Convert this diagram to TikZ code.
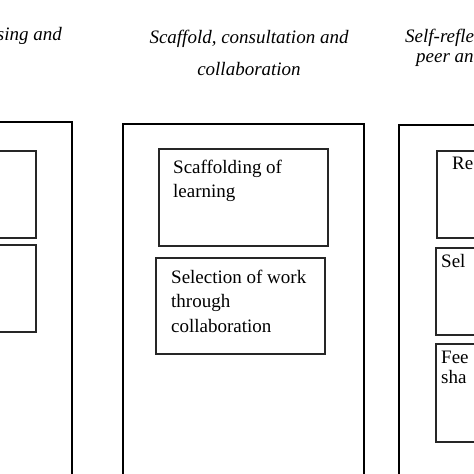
\documentclass[tikz,border=0pt]{standalone}
\usepackage{fontspec}
\setmainfont{Liberation Serif}
\usetikzlibrary{calc}
\tikzset{
  frame/.style={rectangle, draw=black, line width=1.5pt, inner sep=0pt, outer sep=0pt, anchor=north west},
  item/.style={rectangle, draw=black!85, line width=1.1pt, inner sep=0pt, outer sep=0pt, anchor=north west},
  head/.style={font=\fontsize{19}{32}\selectfont\itshape, align=center, inner sep=0pt},
  txt/.style={font=\fontsize{19}{24.5}\selectfont, align=left, inner sep=0pt, anchor=base west}
}
\begin{document}
\begin{tikzpicture}[x=1pt, y=-1pt]
\useasboundingbox (0,0) rectangle (474,474);
\clip (0,0) rectangle (474,474);
\node[head, anchor=base east] (lhead) at (62,40) {sing and};
\node[head, anchor=base] (mhead) at (249,75) {Scaffold, consultation and\\collaboration};
\node[head, anchor=base west] (rhead) at (405,42) {Self-refle};
\node[head, anchor=base west] (rhead2) at (416,62.5) {peer an};
\node[frame, minimum width=92pt, minimum height=368pt] (lcol) at (-20,122) {};
\node[item, minimum width=56pt, minimum height=87pt] (l1) at (-20,151) {};
\node[item, minimum width=56pt, minimum height=87pt] (l2) at (-20,245) {};
\node[frame, minimum width=241pt, minimum height=366pt] (mcol) at (123,124) {};
\node[item, minimum width=169pt, minimum height=97pt] (m1) at (159,149) {};
\node[item, minimum width=169pt, minimum height=96pt] (m2) at (156,258) {};
\node[txt] (m1t) at ($(m1.north west)+(14,48.5)$) {Scaffolding of\\learning};
\node[txt] (m2t) at ($(m2.north west)+(15,74)$) {Selection of work\\through\\collaboration};
\node[frame, minimum width=121pt, minimum height=365pt] (rcol) at (399,125) {};
\node[item, minimum width=83pt, minimum height=87pt] (r1) at (437,151) {};
\node[item, minimum width=84pt, minimum height=87pt] (r2) at (436,248) {};
\node[item, minimum width=84pt, minimum height=98pt] (r3) at (436,344) {};
\node[txt] (r1t) at ($(r1.north west)+(15,18)$) {Re};
\node[txt] (r2t) at ($(r2.north west)+(5,19)$) {Sel};
\node[txt, font=\fontsize{19}{20}\selectfont] (r3t) at ($(r3.north west)+(5,39)$) {Fee\\sha};
\end{tikzpicture}
\end{document}
